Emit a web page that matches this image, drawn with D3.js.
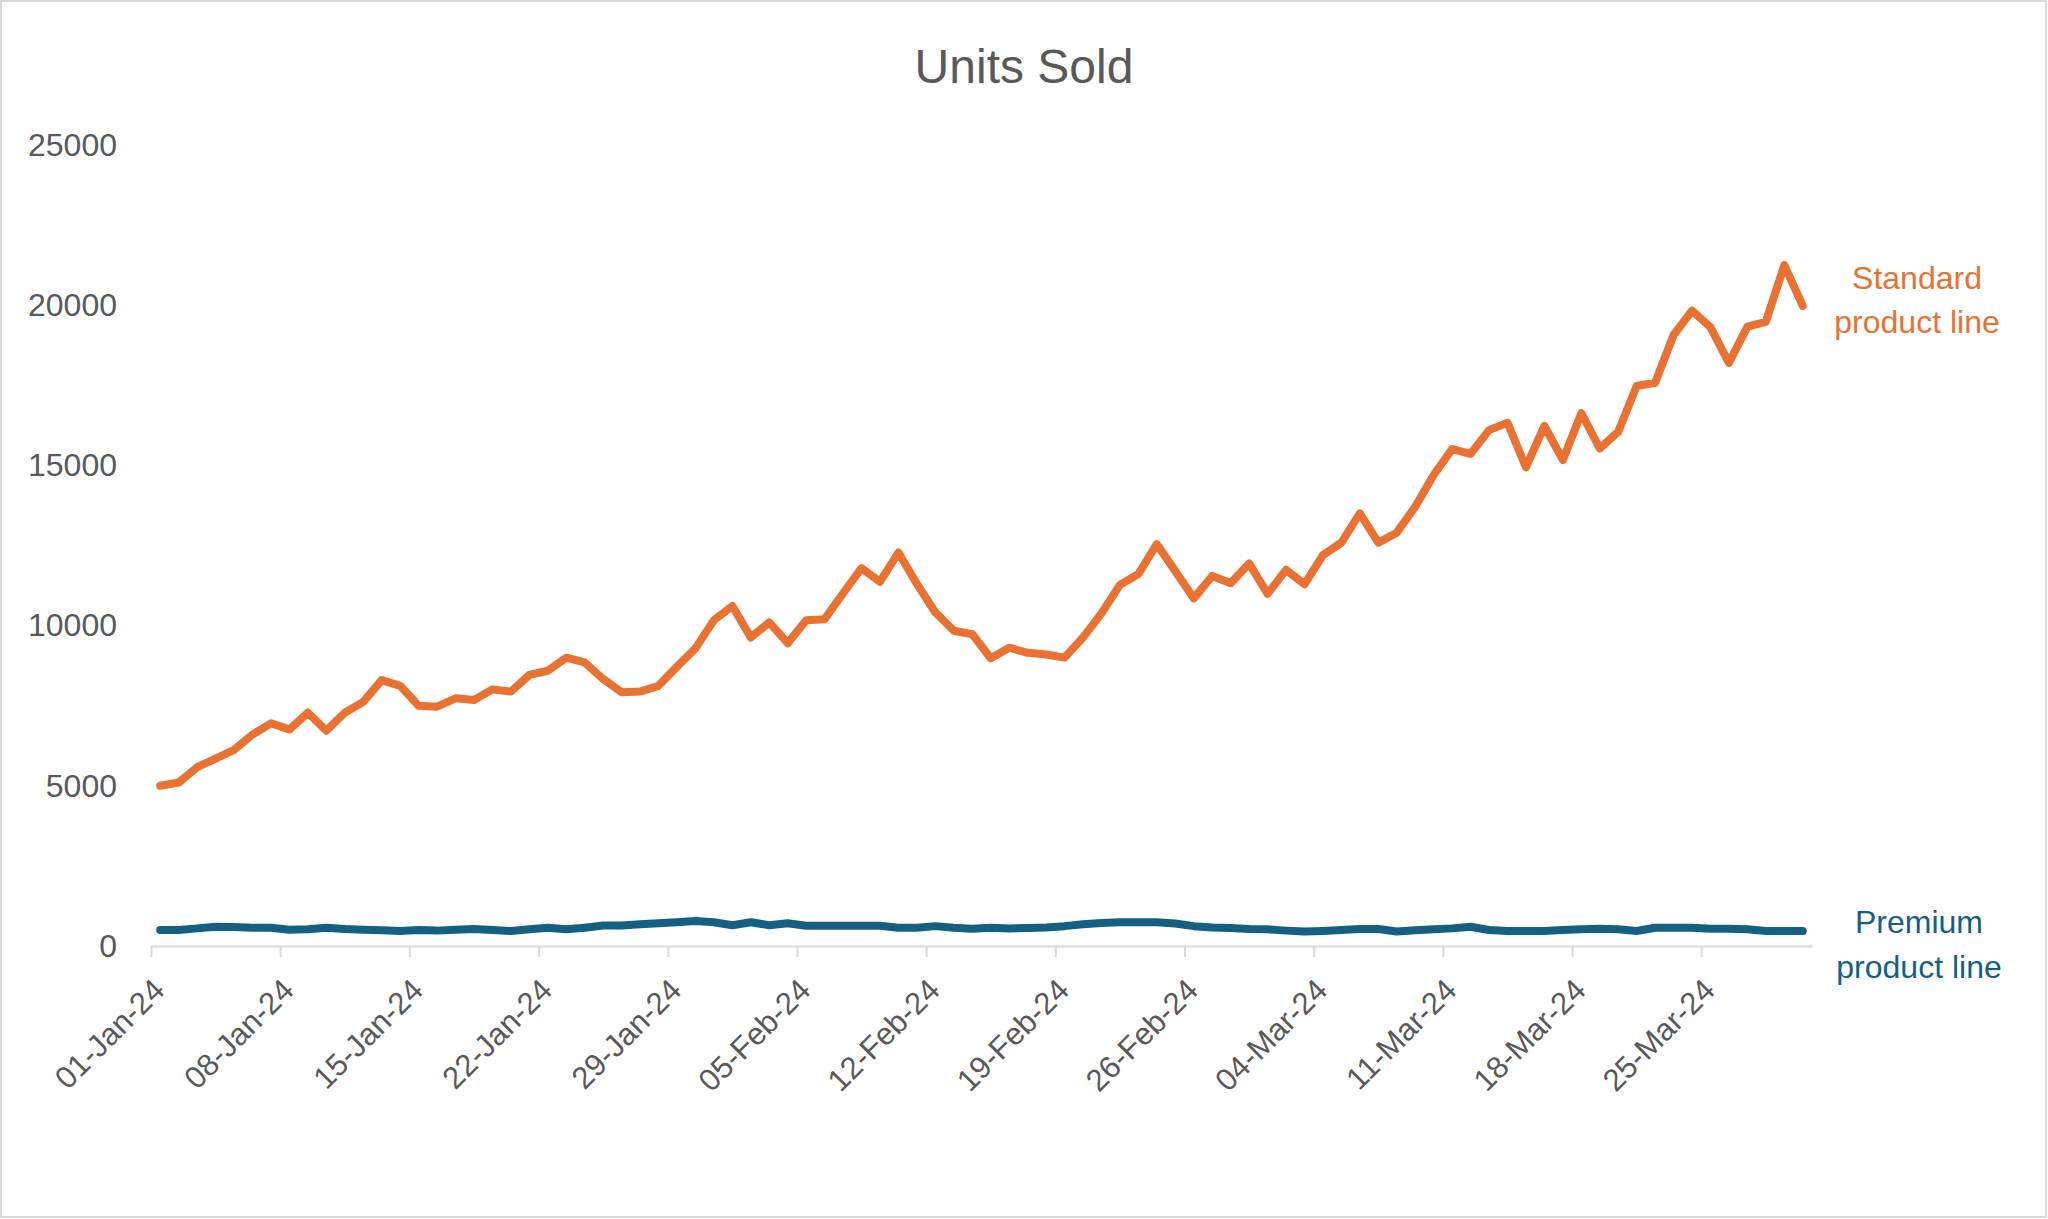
<!DOCTYPE html>
<html>
<head>
<meta charset="utf-8">
<script src="https://cdn.jsdelivr.net/npm/d3@7"></script>
<style>
  html, body { margin: 0; padding: 0; background: #fff; }
  svg { display: block; }
  text { font-family: "Liberation Sans", Arial, sans-serif; }
</style>
</head>
<body>
<svg id="chart" width="2048" height="1219"></svg>
<script>
// ---------- data ----------
const title = "Units Sold";
const startDate = "2024-01-01";
const endDate = "2024-03-31"; // exclusive end of axis
const seriesNames = ["Standard product line", "Premium product line"];

const standard = [
  5000, 5100, 5580, 5850, 6120, 6600, 6950, 6760, 7280, 6720,
  7280, 7620, 8300, 8120, 7500, 7470, 7730, 7680, 8010, 7940,
  8460, 8590, 9000, 8850, 8330, 7920, 7940, 8120, 8720, 9290,
  10170, 10610, 9630, 10100, 9450, 10170, 10200, 11010, 11790, 11370,
  12280, 11300, 10410, 9840, 9730, 8980, 9310, 9150, 9100, 9000,
  9630, 10380, 11270, 11610, 12540, 11700, 10850, 11550, 11320, 11940,
  10990, 11740, 11290, 12200, 12590, 13500, 12590, 12900, 13710, 14700,
  15510, 15360, 16100, 16330, 14940, 16230, 15170, 16630, 15530, 16050,
  17480, 17580, 19070, 19830, 19310, 18200, 19330, 19480, 21250, 19980
];

const premium = [
  500, 500, 550, 600, 590, 570, 570, 510, 520, 570,
  530, 510, 490, 470, 500, 480, 510, 530, 500, 470,
  520, 570, 520, 570, 640, 640, 680, 710, 740, 780,
  740, 650, 740, 650, 710, 630, 630, 630, 630, 630,
  570, 570, 620, 570, 540, 570, 550, 560, 580, 620,
  680, 720, 740, 740, 740, 700, 620, 580, 560, 530,
  520, 480, 450, 470, 500, 530, 530, 450, 490, 520,
  550, 600, 500, 470, 470, 470, 500, 520, 540, 520,
  470, 570, 570, 570, 540, 540, 520, 470, 470, 470
];

const yTicks = [0, 5000, 10000, 15000, 20000, 25000];
const xTickLabels = [
  "01-Jan-24", "08-Jan-24", "15-Jan-24", "22-Jan-24", "29-Jan-24",
  "05-Feb-24", "12-Feb-24", "19-Feb-24", "26-Feb-24", "04-Mar-24",
  "11-Mar-24", "18-Mar-24", "25-Mar-24"
];

// ---------- layout ----------
const W = 2048, H = 1219;
const plot = { left: 151, right: 1812, top: 145, bottom: 946 };
const colors = { standard: "#E97132", premium: "#156082", text: "#595959", axis: "#D9D9D9" };

const svg = d3.select("#chart");
const parse = d3.utcParse("%Y-%m-%d");
const fmt = d3.utcFormat("%d-%b-%y");
const t0 = parse(startDate), t1 = parse(endDate);
const dates = d3.utcDay.range(t0, t1);

const x = d3.scaleUtc().domain([t0, t1]).range([plot.left, plot.right]);
const y = d3.scaleLinear().domain([0, 25000]).range([plot.bottom, plot.top]);
const xMid = d => x(d3.utcHour.offset(d, 12));

// chart border
svg.append("rect")
  .attr("x", 1).attr("y", 1).attr("width", W - 3).attr("height", H - 3)
  .attr("fill", "#fff").attr("stroke", colors.axis).attr("stroke-width", 2);

// title
svg.append("text")
  .attr("x", W / 2).attr("y", 83)
  .attr("text-anchor", "middle")
  .attr("font-size", 48)
  .attr("fill", colors.text)
  .text(title);

// y axis labels
const yAxis = d3.axisLeft(y).tickValues(yTicks).tickSize(0).tickPadding(34).tickFormat(d3.format("d"));
const gy = svg.append("g").attr("transform", `translate(${plot.left},0)`).call(yAxis);
gy.select(".domain").remove();
gy.selectAll("text").attr("font-size", 32).attr("fill", colors.text)
  .attr("font-family", "'Liberation Sans', Arial, sans-serif");

// x axis
const tickDates = xTickLabels.map(s => d3.utcParse("%d-%b-%y")(s));
const xAxis = d3.axisBottom(x).tickValues(tickDates).tickSize(11).tickSizeOuter(0).tickFormat(fmt);
const gx = svg.append("g").attr("transform", `translate(0,${plot.bottom})`).call(xAxis);
gx.select(".domain").attr("stroke", colors.axis).attr("stroke-width", 2);
gx.selectAll(".tick line").attr("stroke", colors.axis).attr("stroke-width", 2);
gx.selectAll(".tick text")
  .attr("font-size", 31)
  .attr("fill", colors.text)
  .attr("font-family", "'Liberation Sans', Arial, sans-serif")
  .attr("text-anchor", "end")
  .attr("dy", 0)
  .attr("y", 0)
  .attr("transform", "translate(15,46) rotate(-45)");

// lines
const line = d3.line().x(d => xMid(d.date)).y(d => y(d.value));
const stdData = dates.map((d, i) => ({ date: d, value: standard[i] }));
const preData = dates.map((d, i) => ({ date: d, value: premium[i] }));

svg.append("path").datum(preData)
  .attr("fill", "none").attr("stroke", colors.premium).attr("stroke-width", 8)
  .attr("stroke-linejoin", "round").attr("stroke-linecap", "round")
  .attr("d", line);

svg.append("path").datum(stdData)
  .attr("fill", "none").attr("stroke", colors.standard).attr("stroke-width", 8)
  .attr("stroke-linejoin", "round").attr("stroke-linecap", "round")
  .attr("d", line);

// series labels
function seriesLabel(lines, cx, ys, color) {
  const t = svg.append("text").attr("text-anchor", "middle").attr("font-size", 32).attr("fill", color);
  lines.forEach((l, i) => t.append("tspan").attr("x", cx).attr("y", ys[i]).text(l));
}
seriesLabel(["Standard", "product line"], 1917, [289, 333], colors.standard);
seriesLabel(["Premium", "product line"], 1919, [933, 978], colors.premium);
</script>
</body>
</html>
